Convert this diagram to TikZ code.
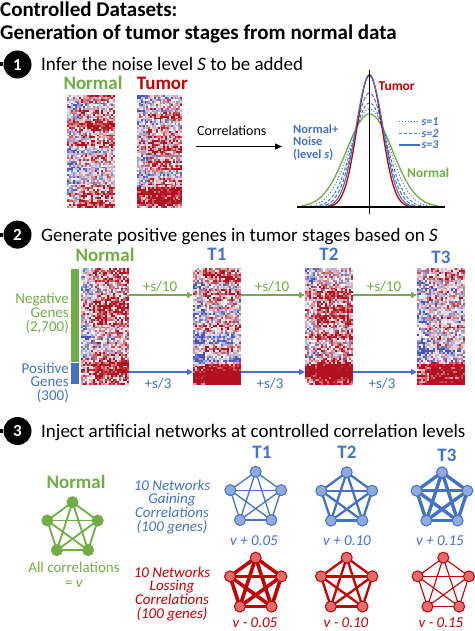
\documentclass[tikz,border=0pt]{standalone}
\usepackage{fontspec}
\setmainfont{Carlito}
\usetikzlibrary{arrows.meta}
\definecolor{cgreen}{HTML}{70AD47}
\definecolor{cblue}{HTML}{4472C4}
\definecolor{clblue}{HTML}{8FAADC}
\definecolor{cred}{HTML}{C00000}
\definecolor{clred}{HTML}{E06C6C}

% heatmap: x, y, w, h, seed, bottom bias, name
\newcommand\hmap[7]{%
  \pgfmathsetseed{#5}%
  \pgfmathsetmacro\hmcw{#3/24}%
  \pgfmathsetmacro\hmch{#4/60}%
  \xdef\hmprev{0}%
  \foreach \j in {0,...,59}{%
    \pgfmathsetmacro\hmrb{0.75*\hmprev+0.3*rand}%
    \xdef\hmprev{\hmrb}%
    \pgfmathsetmacro\hmbias{\j>48 ? #6 : 0.22}%
    \foreach \i in {0,...,23}{%
      \pgfmathsetmacro\hmv{max(-1,min(1,1.45*(\hmrb+\hmbias+0.55*rand+(\i<6 ? -0.32 : 0))))}%
      \pgfmathsetmacro\hmr{\hmv>0 ? 1-0.3*\hmv : 1+0.72*\hmv}%
      \pgfmathsetmacro\hmg{\hmv>0 ? 1-0.93*\hmv : 1+0.67*\hmv}%
      \pgfmathsetmacro\hmb{\hmv>0 ? 1-0.88*\hmv : 1+0.28*\hmv}%
      \definecolor{hmc}{rgb}{\hmr,\hmg,\hmb}%
      \fill[hmc] ({#1+\i*\hmcw},{#2+\j*\hmch}) rectangle ++(\hmcw+0.25,\hmch+0.25);
    }%
  }%
  \node[inner sep=0, minimum width=#3, minimum height=#4, anchor=north west] (#7) at (#1,#2) {};%
}

% network: name, cx, cy, r, edge colour, fill colour, edge width
\newcommand\pnet[7]{%
  \foreach \k in {0,...,4}{%
    \coordinate (#1c\k) at ({#2+#4*cos(90+72*\k)},{#3-#4*sin(90+72*\k)});
  }%
  \foreach \a/\b in {0/1,1/2,2/3,3/4,4/0,0/2,0/3,1/3,1/4,2/4}{%
    \draw[#5, line width=#7] (#1c\a) -- (#1c\b);
  }%
  \foreach \k in {0,...,4}{%
    \node[netnode, fill=#6, draw=#5] (#1n\k) at (#1c\k) {};
  }%
}

\begin{document}
\begin{tikzpicture}[x=1pt,y=-1pt,
  ttl/.style={font=\fontsize{21}{24}\selectfont\bfseries, anchor=base west, inner sep=0},
  steptxt/.style={font=\fontsize{19}{22}\selectfont, anchor=base west, inner sep=0},
  stepcirc/.style={circle, fill=black, text=white, minimum size=28, inner sep=0, font=\fontsize{17}{17}\selectfont\bfseries},
  hdr/.style={font=\fontsize{19}{22}\selectfont\bfseries, anchor=base, inner sep=0},
  lbl/.style={font=\fontsize{15}{18}\selectfont, anchor=base, inner sep=0},
  rlbl/.style={font=\fontsize{15}{18}\selectfont, anchor=base east, inner sep=0},
  ilbl/.style={font=\fontsize{15}{18}\selectfont\itshape, anchor=base, inner sep=0},
  plbl/.style={font=\fontsize{13.5}{15}\selectfont\bfseries, anchor=base west, inner sep=0},
  nlbl/.style={font=\fontsize{12.5}{14}\selectfont\bfseries, anchor=base west, inner sep=0, text=cblue},
  leg/.style={font=\fontsize{12}{14}\selectfont\bfseries\itshape, anchor=west, inner sep=0, text=cblue},
  netnode/.style={circle, inner sep=0, minimum size=11, line width=1},
  garrow/.style={cgreen, line width=1.4, -{Triangle[length=6,width=6]}},
  barrow/.style={cblue, line width=1.4, -{Triangle[length=6,width=6]}},
]
\useasboundingbox (0,0) rectangle (474,631);

% titles
\node[ttl] (t1) at (0,16.7) {Controlled Datasets:};
\node[ttl] (t2) at (0,40) {Generation of tumor stages from normal data};

% ---------- step 1
\node[stepcirc] (s1) at (17.5,64.5) {1};
\coordinate (s1l) at (0,64.5);
\draw[line width=4] (s1l) -- (s1);
\node[steptxt] (s1t) at (41,71) {Infer the noise level \textit{S} to be added};
\node[hdr, anchor=base west, text=cgreen] (n1h) at (63.3,90) {Normal};
\node[hdr, anchor=base west, text=cred] (t1h) at (136.7,90) {Tumor};
\hmap{67}{95}{48}{113}{11}{0.45}{hmA}
\hmap{137}{95}{45}{113}{23}{0.55}{hmB}
\node[font=\fontsize{14}{16}\selectfont, anchor=base west, inner sep=0] (corr) at (197,136) {Correlations};
\coordinate (ca) at (196,146.5);
\coordinate (cb) at (282,146.5);
\draw[line width=1.3, -{Triangle[length=7,width=6]}] (ca) -- (cb);

% distribution plot
\coordinate (ax1) at (297,207); \coordinate (ax2) at (445,207);
\coordinate (ay1) at (369.5,70); \coordinate (ay2) at (369.5,214);
\draw[cgreen, line width=1.3] plot[domain=-68:68, samples=90] ({369.5+\x},{207-93*exp(-(\x)*(\x)/1058)});
\draw[cblue, line width=1, dotted] plot[domain=-62:62, samples=90] ({369.5+\x},{207-98*exp(-(\x)*(\x)/800)});
\draw[cblue, line width=1, dash pattern=on 3pt off 2pt] plot[domain=-55:55, samples=90] ({369.5+\x},{207-104*exp(-(\x)*(\x)/600)});
\draw[cblue, line width=1, dash pattern=on 4pt off 2pt] plot[domain=-50:50, samples=90] ({369.5+\x},{207-114*exp(-(\x)*(\x)/470)});
\draw[cred, line width=1.3] plot[domain=-40:40, samples=90] ({369.5+\x},{207-132*exp(-(\x)*(\x)/312)});
\draw[cblue, line width=1.1] plot[domain=-44:44, samples=90] ({369.5+\x},{207-131*exp(-(\x)*(\x)/370)});
\draw[line width=1.2] (ax1) -- (ax2);
\draw[line width=1.2] (ay1) -- (ay2);
\node[plbl, text=cred] (tuml) at (378.3,90.7) {Tumor};
\node[nlbl] (nn1) at (293,133.5) {Normal+};
\node[nlbl] (nn2) at (293,146) {Noise};
\node[nlbl] (nn3) at (293,158.5) {(level \textit{s})};
\node[plbl, text=cgreen] (norl) at (407,178) {Normal};
\coordinate (l1a) at (399,121.7); \coordinate (l1b) at (420,121.7);
\coordinate (l2a) at (399,133.5); \coordinate (l2b) at (420,133.5);
\coordinate (l3a) at (399,145); \coordinate (l3b) at (420,145);
\draw[cblue, line width=1, dotted] (l1a) -- (l1b);
\draw[cblue, line width=1, dash pattern=on 3pt off 2pt] (l2a) -- (l2b);
\draw[cblue, line width=1.2] (l3a) -- (l3b);
\node[leg] (lg1) at (421.5,121.7) {s=1};
\node[leg] (lg2) at (421.5,133.5) {s=2};
\node[leg] (lg3) at (421.5,145) {s=3};

% ---------- step 2
\node[stepcirc] (s2) at (17.5,234.6) {2};
\coordinate (s2l) at (0,234.6);
\draw[line width=4] (s2l) -- (s2);
\node[steptxt] (s2t) at (41,241) {Generate positive genes in tumor stages based on \textit{S}};
\node[hdr, text=cgreen] (hN) at (105,261.7) {Normal};
\node[hdr, text=cblue] (hT1) at (217,260) {T1};
\node[hdr, text=cblue] (hT2) at (329,260) {T2};
\node[hdr, text=cblue] (hT3) at (441,263) {T3};
\hmap{81}{268}{48}{117}{5}{0.6}{hmN}
\hmap{193}{268}{48}{117}{7}{0.7}{hmT1}
\hmap{305}{268}{48}{117}{9}{0.8}{hmT2}
\hmap{417}{268}{48}{117}{13}{0.9}{hmT3}
\node[fill=cgreen, inner sep=0, minimum width=8, minimum height=93, anchor=north west] (gbar) at (71,269) {};
\node[fill=cblue, inner sep=0, minimum width=8, minimum height=21, anchor=north west] (bbar) at (71,363) {};
\node[rlbl, text=cgreen] (ng1) at (69,303) {Negative};
\node[rlbl, text=cgreen] (ng2) at (69,317) {Genes};
\node[rlbl, text=cgreen] (ng3) at (69,331) {(2,700)};
\node[rlbl, text=cblue] (pg1) at (69,373) {Positive};
\node[rlbl, text=cblue] (pg2) at (69,386.5) {Genes};
\node[rlbl, text=cblue] (pg3) at (69,400) {(300)};
\coordinate (gy) at (0,295);
\coordinate (by) at (0,372);
\draw[garrow] (hmN.east |- gy) -- (hmT1.west |- gy);
\draw[garrow] (hmT1.east |- gy) -- (hmT2.west |- gy);
\draw[garrow] (hmT2.east |- gy) -- (hmT3.west |- gy);
\draw[barrow] (hmN.east |- by) -- (hmT1.west |- by);
\draw[barrow] (hmT1.east |- by) -- (hmT2.west |- by);
\draw[barrow] (hmT2.east |- by) -- (hmT3.west |- by);
\node[lbl, text=cgreen] (g1) at (160,291) {+s/10};
\node[lbl, text=cgreen] (g2) at (272,291) {+s/10};
\node[lbl, text=cgreen] (g3) at (384,291) {+s/10};
\node[lbl, text=cblue] (b1) at (158,388) {+s/3};
\node[lbl, text=cblue] (b2) at (270,388) {+s/3};
\node[lbl, text=cblue] (b3) at (382,388) {+s/3};

% ---------- step 3
\node[stepcirc] (s3) at (17.5,431) {3};
\coordinate (s3l) at (0,431);
\draw[line width=4] (s3l) -- (s3);
\node[steptxt] (s3t) at (41,437) {Inject artificial networks at controlled correlation levels};
\node[hdr, text=cgreen] (h3N) at (76,488) {Normal};
\node[hdr, text=cblue] (h3T1) at (262,458) {T1};
\node[hdr, text=cblue] (h3T2) at (347,458) {T2};
\node[hdr, text=cblue] (h3T3) at (447,461) {T3};
\pnet{gn}{72.5}{528.7}{26.5}{cgreen}{cgreen}{1.8}
\node[lbl, text=cgreen] (ac1) at (74,572) {All correlations};
\node[lbl, text=cgreen] (ac2) at (74,587) {= \textit{v}};
\node[ilbl, text=cblue] (gb1) at (172,490) {10 Networks};
\node[ilbl, text=cblue] (gb2) at (172,503.5) {Gaining};
\node[ilbl, text=cblue] (gb3) at (172,517) {Correlations};
\node[ilbl, text=cblue] (gb4) at (172,531) {(100 genes)};
\node[ilbl, text=cred] (lr1) at (172,577) {10 Networks};
\node[ilbl, text=cred] (lr2) at (172,590.5) {Lossing};
\node[ilbl, text=cred] (lr3) at (172,604) {Correlations};
\node[ilbl, text=cred] (lr4) at (172,618) {(100 genes)};
\pnet{ba}{255.7}{498.4}{26.7}{cblue}{clblue}{1.3}
\pnet{bb}{346.7}{499}{26.7}{cblue}{clblue}{2.3}
\pnet{bc}{442}{499}{26.7}{cblue}{clblue}{3.4}
\node[ilbl, text=cblue] (vb1) at (254,545) {v + 0.05};
\node[ilbl, text=cblue] (vb2) at (347,545) {v + 0.10};
\node[ilbl, text=cblue] (vb3) at (440,545) {v + 0.15};
\pnet{ra}{255.7}{584.7}{27}{cred}{clred}{3.6}
\pnet{rb}{346.7}{584.7}{27}{cred}{clred}{2.3}
\pnet{rc}{443.3}{584.7}{27}{cred}{clred}{1.1}
\node[ilbl, text=cred] (vr1) at (255,627.5) {v - 0.05};
\node[ilbl, text=cred] (vr2) at (346,627.5) {v - 0.10};
\node[ilbl, text=cred] (vr3) at (441,627.5) {v - 0.15};
\end{tikzpicture}
\end{document}
